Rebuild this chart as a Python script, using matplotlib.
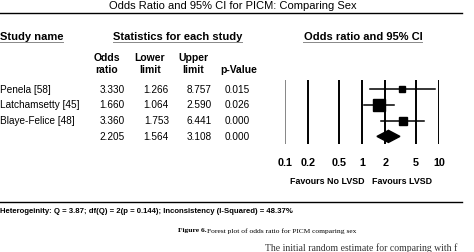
import matplotlib.pyplot as plt
import matplotlib.patches as mpatches

plt.rcParams['font.family'] = ['Liberation Sans', 'DejaVu Sans']

# data
studies = ["Penela [58]", "Latchamsetty [45]", "Blaye-Felice [48]"]
odds = [3.330, 1.660, 3.360]
lower = [1.266, 1.064, 1.753]
upper = [8.757, 2.590, 6.441]
pvals = ["0.015", "0.026", "0.000"]
weights = [4.3, 8.6, 6.3]  # marker sizes (relative study weight)
pooled_or, pooled_lo, pooled_hi, pooled_p = 2.205, 1.564, 3.108, "0.000"
ticks = [0.1, 0.2, 0.5, 1, 2, 5, 10]
tick_labels = ["0.1", "0.2", "0.5", "1", "2", "5", "10"]

W, H = 474, 253
fig = plt.figure(figsize=(W / 100, H / 100), dpi=100)

# overlay axes in pixel coords for all the text
bg = fig.add_axes([0, 0, 1, 1])
bg.set_xlim(0, W)
bg.set_ylim(H, 0)
bg.axis("off")

bg.text(233, 6, "Odds Ratio and 95% CI for PICM: Comparing Sex", ha="center", va="center", fontsize=8)
bg.plot([0, 462], [14, 14], color="black", lw=1.0)
bg.plot([0, 462], [203, 203], color="black", lw=1.0)

bg.text(0, 37, "Study name", fontsize=8, fontweight="bold", ha="left", va="center")
bg.plot([0, 63], [42.5, 42.5], color="#888888", lw=0.7)
bg.text(178, 37, "Statistics for each study", fontsize=8, fontweight="bold", ha="center", va="center")
bg.plot([113, 242], [42.5, 42.5], color="#888888", lw=0.7)
bg.text(363, 37, "Odds ratio and 95% CI", fontsize=8, fontweight="bold", ha="center", va="center")
bg.plot([303, 422], [42.5, 42.5], color="#888888", lw=0.7)

heads = [("Odds\nratio", 107), ("Lower\nlimit", 150), ("Upper\nlimit", 193), ("\np-Value", 239)]
for txt, x in heads:
    bg.text(x, 64, txt, fontsize=7.5, fontweight="bold", ha="center", va="center", linespacing=1.2)

row_y = [89.7, 105.3, 121, 137.5]
for i, name in enumerate(studies):
    y = row_y[i]
    bg.text(0, y, name, fontsize=7.2, ha="left", va="center")
    bg.text(125, y, f"{odds[i]:.3f}", fontsize=7.2, ha="right", va="center")
    bg.text(169, y, f"{lower[i]:.3f}", fontsize=7.2, ha="right", va="center")
    bg.text(212, y, f"{upper[i]:.3f}", fontsize=7.2, ha="right", va="center")
    bg.text(250, y, pvals[i], fontsize=7.2, ha="right", va="center")
y = row_y[3]
bg.text(125, y, f"{pooled_or:.3f}", fontsize=7.2, ha="right", va="center")
bg.text(169, y, f"{pooled_lo:.3f}", fontsize=7.2, ha="right", va="center")
bg.text(212, y, f"{pooled_hi:.3f}", fontsize=7.2, ha="right", va="center")
bg.text(250, y, pooled_p, fontsize=7.2, ha="right", va="center")

bg.text(327, 182, "Favours No LVSD", fontsize=6.4, fontweight="bold", ha="center", va="center")
bg.text(402, 182, "Favours LVSD", fontsize=6.4, fontweight="bold", ha="center", va="center")

bg.text(0, 212, "Heterogeinity: Q = 3.87; df(Q) = 2(p = 0.144); Inconsistency (I-Squared) = 48.37%",
        fontsize=5.6, fontweight="bold", ha="left", va="center")

bg.text(178, 231, "Figure 6.", fontsize=5.4, fontweight="bold", family="Liberation Serif",
        ha="left", va="center")
bg.text(207, 231, "Forest plot of odds ratio for PICM comparing sex", fontsize=5.4,
        family="Liberation Serif", ha="left", va="center")
bg.text(265, 243, "The initial random estimate for comparing with f", fontsize=7.0,
        family="Liberation Serif", ha="left", va="top", color="#333333")

# forest plot axes: 0.1 -> x=285px, 10 -> x=439px, rows between y=81 and 145 px
top_px, bot_px = 81, 145
ax = fig.add_axes([285 / W, 1 - bot_px / H, (439 - 285) / W, (bot_px - top_px) / H])
ax.set_xscale("log")
ax.set_xlim(0.1, 10)
step = 15.9
y0 = -(row_y[0] - top_px) / step
y1 = (bot_px - row_y[0]) / step
ax.set_ylim(y1, y0)
ax.patch.set_alpha(0)
for s in ax.spines.values():
    s.set_visible(False)
ax.vlines(ticks[0], y0, y1, color="#666666", lw=1.1)
ax.vlines(ticks[1:], y0, y1, color="black", lw=1.4)
ax.set_xticks(ticks)
ax.set_xticklabels(tick_labels, fontsize=7.8, fontweight="bold")
ax.minorticks_off()
ax.tick_params(axis="x", length=0, pad=9)
ax.set_yticks([])

for i in range(len(studies)):
    ax.plot([lower[i], upper[i]], [i, i], color="black", lw=1.1)
    ax.plot(odds[i], i, marker="s", ms=weights[i], color="black")

h = 0.38
diamond = mpatches.Polygon([[pooled_lo, 3], [pooled_or, 3 - h], [pooled_hi, 3], [pooled_or, 3 + h]],
                           closed=True, color="black")
ax.add_patch(diamond)

plt.savefig("out.png", dpi=100)
